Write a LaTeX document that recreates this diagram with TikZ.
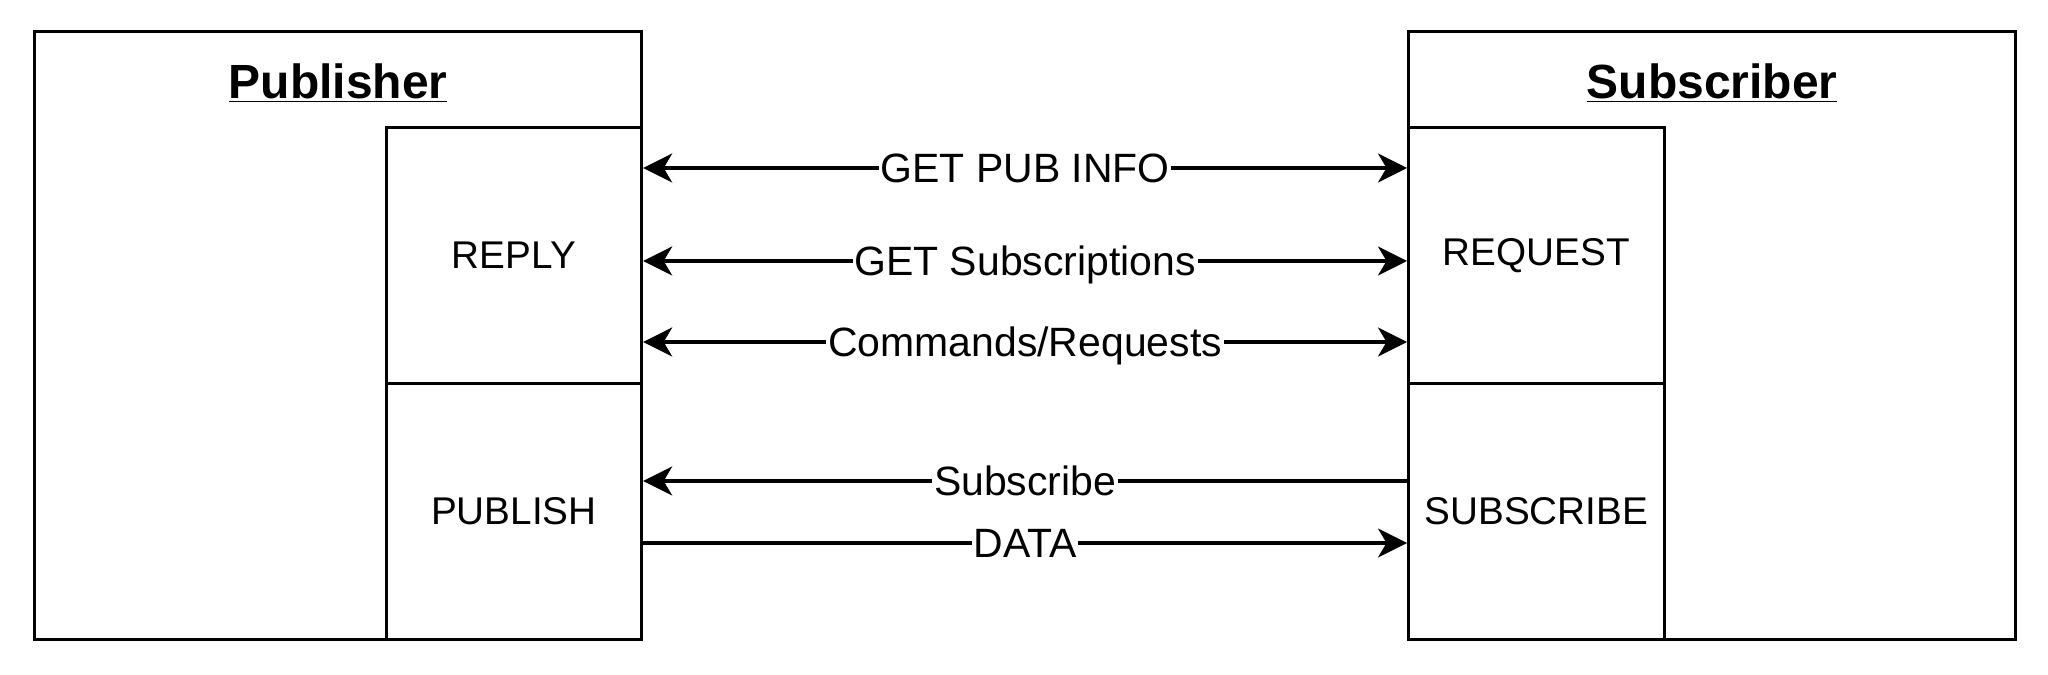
\documentclass[tikz,border=0pt]{standalone}
\usepackage{fontspec}
\setmainfont{Liberation Sans}
\usetikzlibrary{arrows.meta,calc}

\begin{document}
\begin{tikzpicture}[
  >={Stealth[length=0.58cm,width=0.58cm,inset=0.17cm]},
  box/.style={draw,line width=1.8pt,inner sep=0pt,anchor=south west},
  part/.style={box,minimum width=5.11cm,minimum height=5.12cm,font=\fontsize{22}{26}\selectfont},
  head/.style={font=\bfseries\fontsize{27.3}{32}\selectfont,inner sep=0pt},
  link/.style={line width=1.8pt,->},
  both/.style={line width=1.8pt,<->},
  lbl/.style={midway,fill=white,inner sep=1pt,text height=0.59cm,text depth=0pt,font=\fontsize{23.3}{28}\selectfont}]
\useasboundingbox (0,0) rectangle (40.96,13.48);

\node[box,minimum width=12.14cm,minimum height=12.16cm] (pub) at (0.66,0.66) {};
\node[part] (publish) at (7.69,0.66) {PUBLISH};
\node[part] (reply) at (7.69,5.78) {REPLY};
\node[head,yshift=-0.1cm] (pubtitle) at ($(pub.north)!0.5!(pub.north |- reply.north)$) {\underline{Publisher}};

\node[box,minimum width=12.14cm,minimum height=12.16cm] (sub) at (28.14,0.66) {};
\node[part] (subscribe) at (28.14,0.66) {SUBSCRIBE};
\node[part] (request) at (28.14,5.78) {REQUEST};
\node[head,yshift=-0.1cm] (subtitle) at ($(sub.north)!0.5!(sub.north |- request.north)$) {\underline{Subscriber}};

\draw[both] (reply.east |- 0,10.12) -- (request.west |- 0,10.12) node[lbl] {GET PUB INFO};
\draw[both] (reply.east |- 0,8.26) -- (request.west |- 0,8.26) node[lbl] {GET Subscriptions};
\draw[both] (reply.east |- 0,6.64) -- (request.west |- 0,6.64) node[lbl] {Commands/Requests};

\draw[link] (subscribe.west |- 0,3.86) -- (publish.east |- 0,3.86) node[lbl] {Subscribe};
\draw[link] (publish.east |- 0,2.62) -- (subscribe.west |- 0,2.62) node[lbl] {DATA};
\end{tikzpicture}
\end{document}
